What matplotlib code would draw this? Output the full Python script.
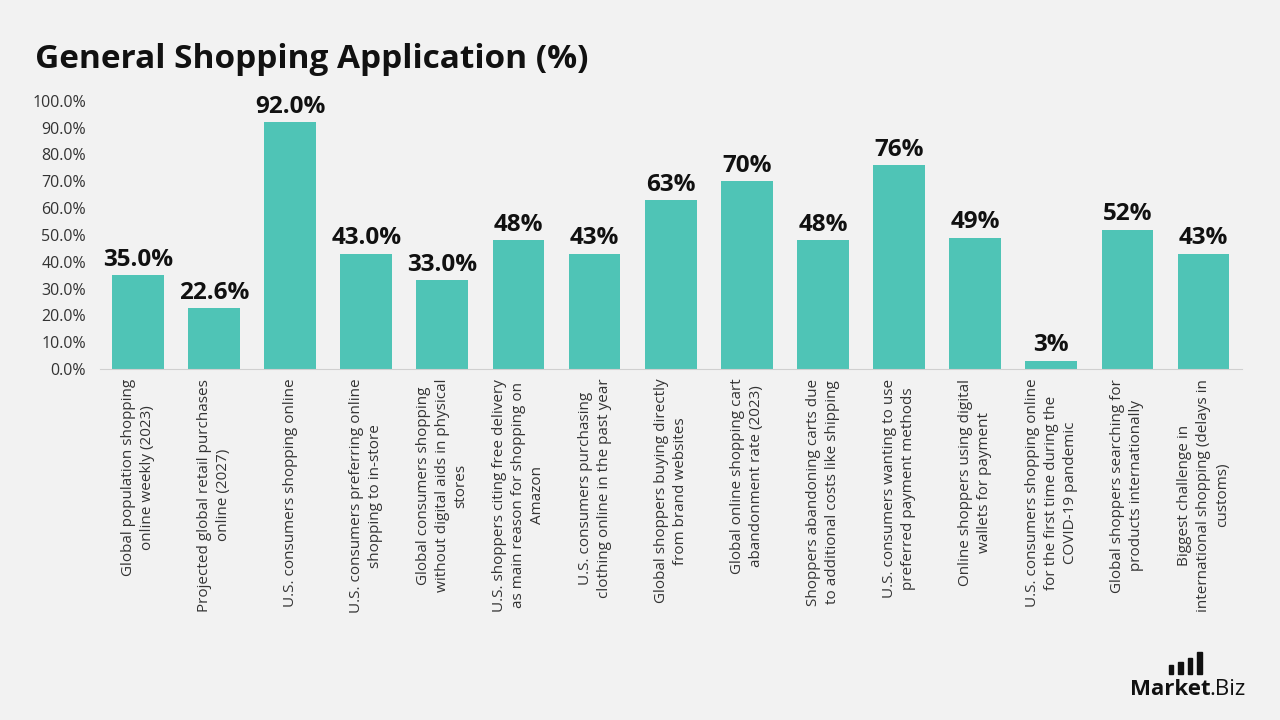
import matplotlib.pyplot as plt
from matplotlib.patches import Rectangle

categories = [
    "Global population shopping\nonline weekly (2023)",
    "Projected global retail purchases\nonline (2027)",
    "U.S. consumers shopping online",
    "U.S. consumers preferring online\nshopping to in-store",
    "Global consumers shopping\nwithout digital aids in physical\nstores",
    "U.S. shoppers citing free delivery\nas main reason for shopping on\nAmazon",
    "U.S. consumers purchasing\nclothing online in the past year",
    "Global shoppers buying directly\nfrom brand websites",
    "Global online shopping cart\nabandonment rate (2023)",
    "Shoppers abandoning carts due\nto additional costs like shipping",
    "U.S. consumers wanting to use\npreferred payment methods",
    "Online shoppers using digital\nwallets for payment",
    "U.S. consumers shopping online\nfor the first time during the\nCOVID-19 pandemic",
    "Global shoppers searching for\nproducts internationally",
    "Biggest challenge in\ninternational shopping (delays in\ncustoms)",
]
values = [35.0, 22.6, 92.0, 43.0, 33.0, 48, 43, 63, 70, 48, 76, 49, 3, 52, 43]
value_labels = ["35.0%", "22.6%", "92.0%", "43.0%", "33.0%", "48%", "43%", "63%",
                "70%", "48%", "76%", "49%", "3%", "52%", "43%"]
yticks = [0, 10, 20, 30, 40, 50, 60, 70, 80, 90, 100]

bg = "#f2f2f2"
bar_color = "#4fc4b6"
plt.rcParams['font.family'] = ['Open Sans', 'DejaVu Sans']

fig = plt.figure(figsize=(12.8, 7.2), dpi=100, facecolor=bg)
ax = fig.add_axes([0.078, 0.4875, 0.892, 0.3725], facecolor=bg)

x = range(len(values))
ax.bar(x, values, width=0.68, color=bar_color)
for i, (v, s) in enumerate(zip(values, value_labels)):
    ax.text(i, v + 1.3, s, ha='center', va='bottom', fontsize=17.5, fontweight='bold', color='#111111')

ax.set_xlim(-0.5, len(values) - 0.5)
ax.set_ylim(0, 100)
ax.set_yticks(yticks)
ax.set_yticklabels(["%.1f%%" % t for t in yticks], fontsize=11.5, color='#333333')
ax.set_xticks(list(x))
ax.set_xticklabels(categories, rotation=90, ha='center', va='top', fontsize=11,
                   color='#333333', multialignment='center', linespacing=1.35)
ax.tick_params(length=0)
ax.tick_params(axis='y', pad=10)
ax.tick_params(axis='x', pad=7)
for side in ['top', 'right', 'left']:
    ax.spines[side].set_visible(False)
ax.spines['bottom'].set_color('#d0d0d0')

fig.text(0.027, 0.917, "General Shopping Application (%)", fontsize=24, fontweight='bold',
         va='center', ha='left', color='#111111')

# logo
fig.canvas.draw()
t1 = fig.text(1130 / 1280, 0.035, "Market", fontsize=16, fontweight='bold', color='#111111',
              ha='left', va='baseline')
bb = t1.get_window_extent(fig.canvas.get_renderer())
fig.text(bb.x1 / 1280 - 0.001, 0.035, ".Biz", fontsize=16, color='#111111', ha='left', va='baseline')
x0 = (bb.x1 - 42) / 1280
for k, h in enumerate([0.012, 0.017, 0.022, 0.030]):
    fig.patches.append(Rectangle((x0 + k * 0.0075, 0.064), 0.0035, h,
                                 transform=fig.transFigure, color='#111111'))

fig.savefig("out.png", dpi=100, facecolor=bg)
